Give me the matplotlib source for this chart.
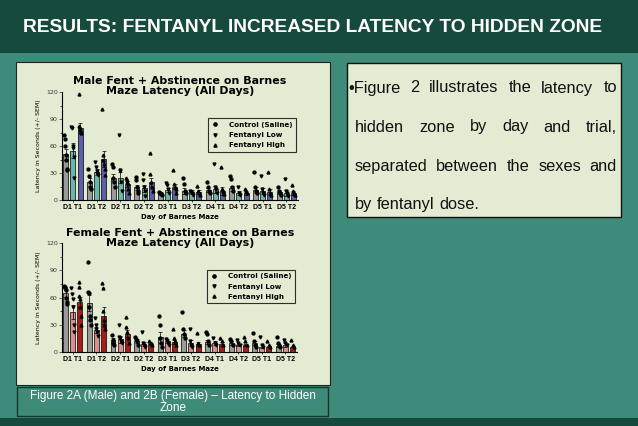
import numpy as np
import matplotlib.pyplot as plt
from matplotlib.patches import Rectangle
from matplotlib.lines import Line2D

W, H = 638, 426

days = ['D1 T1', 'D1 T2', 'D2 T1', 'D2 T2', 'D3 T1', 'D3 T2', 'D4 T1', 'D4 T2', 'D5 T1', 'D5 T2']
groups = ['Control (Saline)', 'Fentanyl Low', 'Fentanyl High']

# Male: bar means, SEM and individual animals
male_control_mean = [51, 20, 25, 14, 8, 10, 11, 13, 11, 9]
male_low_mean = [55, 31, 25, 13, 11, 9, 12, 8, 10, 8]
male_high_mean = [80, 46, 18, 20, 15, 9, 10, 8, 9, 8]
male_control_sem = [6, 4, 4, 3, 1, 3, 2, 3, 3, 2]
male_low_sem = [8, 3, 6, 4, 2, 2, 4, 2, 3, 3]
male_high_sem = [6, 9, 3, 5, 3, 2, 4, 2, 3, 2]
male_control_pts = [[72, 68, 60, 50, 45, 35, 33], [35, 27, 20, 15, 12], [40, 37, 25, 20, 15],
                    [26, 22, 15, 10, 8], [9, 8, 7, 6], [24, 18, 10, 8], [20, 15, 10, 8],
                    [27, 23, 15, 10], [31, 15, 10, 8], [15, 10, 8, 6]]
male_low_pts = [[81, 80, 60, 58, 48, 25], [42, 37, 32, 30, 28], [72, 33, 32, 20, 10],
                [29, 22, 15, 10, 5], [19, 17, 12, 8], [10, 9, 8, 6], [40, 15, 12, 8],
                [15, 8, 6], [27, 12, 8, 6], [23, 10, 8, 5]]
male_high_pts = [[118, 82, 80, 78, 76, 74], [101, 50, 45, 40, 35, 28], [25, 22, 20, 18, 12, 8],
                 [52, 29, 20, 15, 10], [33, 18, 15, 12, 8], [16, 10, 8, 6], [37, 12, 10, 7],
                 [12, 10, 8], [31, 12, 8, 6], [17, 10, 8, 6]]

# Female
female_control_mean = [65, 54, 13, 12, 16, 20, 11, 10, 10, 7]
female_low_mean = [44, 24, 14, 9, 12, 10, 10, 8, 6, 8]
female_high_mean = [55, 40, 20, 9, 11, 9, 9, 8, 6, 6]
female_control_sem = [4, 9, 2, 2, 6, 4, 2, 2, 2, 2]
female_low_sem = [8, 3, 4, 2, 2, 3, 2, 1, 2, 2]
female_high_sem = [6, 9, 4, 1, 2, 2, 2, 1, 1, 1]
female_control_pts = [[73, 72, 70, 68, 60, 55, 53], [99, 66, 65, 50, 40, 35, 30], [19, 13, 10, 8],
                      [17, 14, 12, 8], [40, 30, 15, 10, 5], [44, 25, 20, 15], [22, 20, 12, 8],
                      [14, 12, 8], [21, 12, 8, 6], [16, 10, 8, 6]]
female_low_pts = [[71, 64, 58, 50, 30, 22], [37, 30, 25, 22, 18], [30, 17, 15, 12, 10],
                  [22, 10, 8, 6], [14, 12, 10, 8], [25, 12, 8, 6], [15, 10, 8],
                  [13, 10, 8], [17, 8, 6], [13, 10, 8]]
female_high_pts = [[77, 72, 62, 58, 50, 40, 30], [76, 70, 45, 35, 30, 25], [38, 27, 22, 15, 10],
                   [12, 10, 8], [25, 15, 12, 8], [21, 10, 8], [15, 12, 8],
                   [17, 12, 8], [12, 8, 6], [13, 8, 6]]

header_text = 'RESULTS: FENTANYL INCREASED LATENCY TO HIDDEN ZONE'
body_lines = ['\u2022Figure 2 illustrates the latency to', 'hidden zone by day and trial,',
              'separated between the sexes and', 'by fentanyl dose.']
caption = 'Figure 2A (Male) and 2B (Female) \u2013 Latency to Hidden\nZone'

DARK = '#174a3e'
TEAL = '#3d8b78'
PANEL = '#e4ebd3'


def box(fig, x0, y0, x1, y1, fc, ec='none', lw=0):
    fig.patches.append(Rectangle((x0 / W, 1 - y1 / H), (x1 - x0) / W, (y1 - y0) / H,
                                 transform=fig.transFigure, facecolor=fc, edgecolor=ec,
                                 linewidth=lw, zorder=-5))


fig = plt.figure(figsize=(W / 100, H / 100), dpi=100, facecolor=TEAL)
box(fig, 0, 0, W, 53, DARK)
box(fig, 0, 418, W, H, DARK)
box(fig, 16, 62, 330, 385, PANEL, '#222222', 0.8)
box(fig, 17, 387, 328, 416, TEAL, '#16352c', 1.0)
box(fig, 347, 63, 621, 217, PANEL, '#111111', 1.0)

fig.text(313 / W, 1 - 28 / H, header_text, color='white', fontsize=13.8, fontweight='bold',
         family='Liberation Sans', ha='center', va='center')
fig.text(173 / W, 1 - 402 / H, caption, color='white', fontsize=8.5, family='Liberation Sans',
         ha='center', va='center', linespacing=1.05)

# justified body text
fig.canvas.draw()
renderer = fig.canvas.get_renderer()
line_y = [88, 127, 166, 205]
line_x0 = [348, 355, 355, 355]
x_right = 617
for k, line in enumerate(body_lines):
    words = line.split(' ')
    texts = [fig.text(0, 1 - line_y[k] / H, w, fontsize=11.8, family='Liberation Sans',
                      ha='left', va='center', color='#111111') for w in words]
    widths = [t.get_window_extent(renderer).width for t in texts]
    if k < len(body_lines) - 1:
        gap = (x_right - line_x0[k] - sum(widths)) / (len(words) - 1)
    else:
        gap = 4.5
    x = line_x0[k]
    for t, wd in zip(texts, widths):
        t.set_x(x / W)
        x += wd + gap

width = 0.21
offs = [-0.3, 0, 0.3]
markers = ['o', 'v', '^']


def draw_chart(ax, title, means, sems, pts, colors, title_y):
    x = np.arange(len(days))
    for g in range(3):
        xs = x + offs[g]
        ax.bar(xs, means[g], width, color=colors[g], edgecolor='black', linewidth=0.5, zorder=2)
        ax.errorbar(xs, means[g], yerr=sems[g], fmt='none', ecolor='black', elinewidth=0.5,
                    capsize=1.2, capthick=0.5, zorder=3)
        for i, vals in enumerate(pts[g]):
            n = len(vals)
            jit = np.linspace(-0.06, 0.06, n) if n > 1 else [0]
            ax.plot(xs[i] + np.array(jit), vals, markers[g], color='black', markersize=2.1,
                    linestyle='none', zorder=4)
    ax.set_xlim(-0.46, 9.49)
    ax.set_ylim(0, 120)
    ax.set_yticks([0, 30, 60, 90, 120])
    ax.set_yticks(np.arange(0, 121, 15), minor=True)
    ax.set_xticks(x)
    ax.set_xticklabels(days, fontsize=5, fontweight='bold', family='Liberation Sans')
    ax.tick_params(axis='y', labelsize=4.5, length=2, width=0.5, pad=1, colors='#333333')
    ax.tick_params(axis='y', which='minor', length=1.2, width=0.5)
    ax.tick_params(axis='x', length=1.5, width=0.5, pad=1.5)
    ax.set_xlabel('Day of Barnes Maze', fontsize=5, fontweight='bold', labelpad=2)
    ax.set_ylabel('Latency in Seconds (+/- SEM)', fontsize=4.5, labelpad=4)
    for s in ['top', 'right']:
        ax.spines[s].set_visible(False)
    for s in ['left', 'bottom']:
        ax.spines[s].set_linewidth(0.8)
    ax.patch.set_alpha(0)
    fig.text(180 / W, 1 - title_y / H, title, fontsize=7.9, fontweight='bold', ha='center',
             va='center', linespacing=1.0)
    handles = [Line2D([], [], marker=markers[g], color='black', linestyle='none', markersize=2.3)
               for g in range(3)]
    leg = ax.legend(handles, groups, loc='center', bbox_to_anchor=(0.805, 0.6),
                    frameon=True, fancybox=False, edgecolor='black',
                    prop={'weight': 'bold', 'size': 5.1}, handletextpad=1.5, borderpad=0.5,
                    labelspacing=0.6, handlelength=1)
    leg.get_frame().set_linewidth(0.8)
    leg.get_frame().set_facecolor(PANEL)


ax1 = fig.add_axes([62 / W, 1 - 200 / H, (298 - 62) / W, (200 - 92) / H])
draw_chart(ax1, 'Male Fent + Abstinence on Barnes\nMaze Latency (All Days)',
           [male_control_mean, male_low_mean, male_high_mean],
           [male_control_sem, male_low_sem, male_high_sem],
           [male_control_pts, male_low_pts, male_high_pts],
           ['#9a9a9a', '#66b9a9', '#5c60a9'], 86)

ax2 = fig.add_axes([62 / W, 1 - 352 / H, (297 - 62) / W, (352 - 243) / H])
draw_chart(ax2, 'Female Fent + Abstinence on Barnes\nMaze Latency (All Days)',
           [female_control_mean, female_low_mean, female_high_mean],
           [female_control_sem, female_low_sem, female_high_sem],
           [female_control_pts, female_low_pts, female_high_pts],
           ['#9a9a9a', '#d98f8f', '#a51d1d'], 238)

fig.savefig('out.png', dpi=100, facecolor=TEAL)
